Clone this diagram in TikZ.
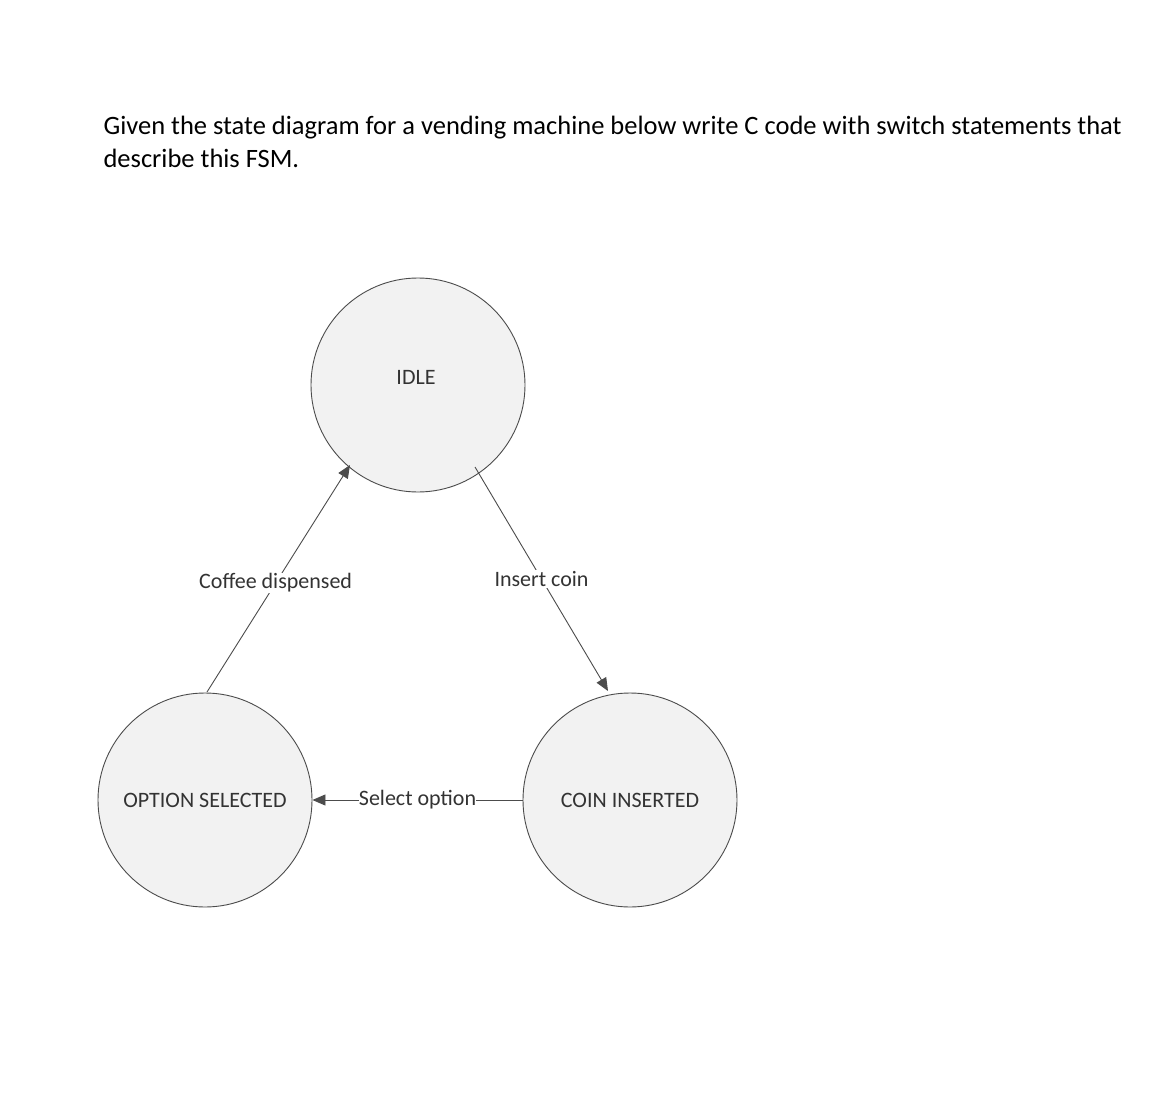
\documentclass[tikz,border=0pt]{standalone}
\usepackage{fontspec}
\setmainfont{Carlito}
\usetikzlibrary{arrows.meta}
\begin{document}
\begin{tikzpicture}[x=1pt,y=-1pt,
  state/.style={circle,draw=gray!60!black,line width=0.9pt,fill=gray!10,minimum size=214pt,inner sep=0pt,text=black!80,font=\fontsize{22}{26}\selectfont},
  edge/.style={draw=gray!60!black,line width=0.9pt,-{Triangle[length=13pt,width=11pt]}},
  lbl/.style={fill=white,inner sep=1pt,text=black!80,font=\fontsize{22}{26}\selectfont}]
\useasboundingbox[fill=white] (0,0) rectangle (1168,1108);
\node[anchor=base west,font=\fontsize{26.5}{31}\selectfont] (h1) at (100,134) {Given the state diagram for a vending machine below write C code with switch statements that};
\node[anchor=base west,font=\fontsize{26.5}{31}\selectfont] (h2) at (100,167) {describe this FSM.};
\node[state] (idle) at (418,385) {};
\node[text=black!80,font=\fontsize{22}{26}\selectfont] (idlet) at (416,377) {IDLE};
\node[state] (opt) at (205,800) {OPTION SELECTED};
\node[state] (coin) at (630,800) {COIN INSERTED};
\coordinate (a1) at (207,692); \coordinate (a2) at (350,465);
\coordinate (b1) at (475,467); \coordinate (b2) at (608,691);
\draw[edge] (a1) -- node[lbl,pos=0.48] (l1) {Coffee dispensed} (a2);
\draw[edge] (b1) -- node[lbl,pos=0.5] (l2) {Insert coin} (b2);
\draw[edge] (coin) -- node[lbl,inner sep=0pt] (l3) {Select option} (opt);
\end{tikzpicture}
\end{document}
